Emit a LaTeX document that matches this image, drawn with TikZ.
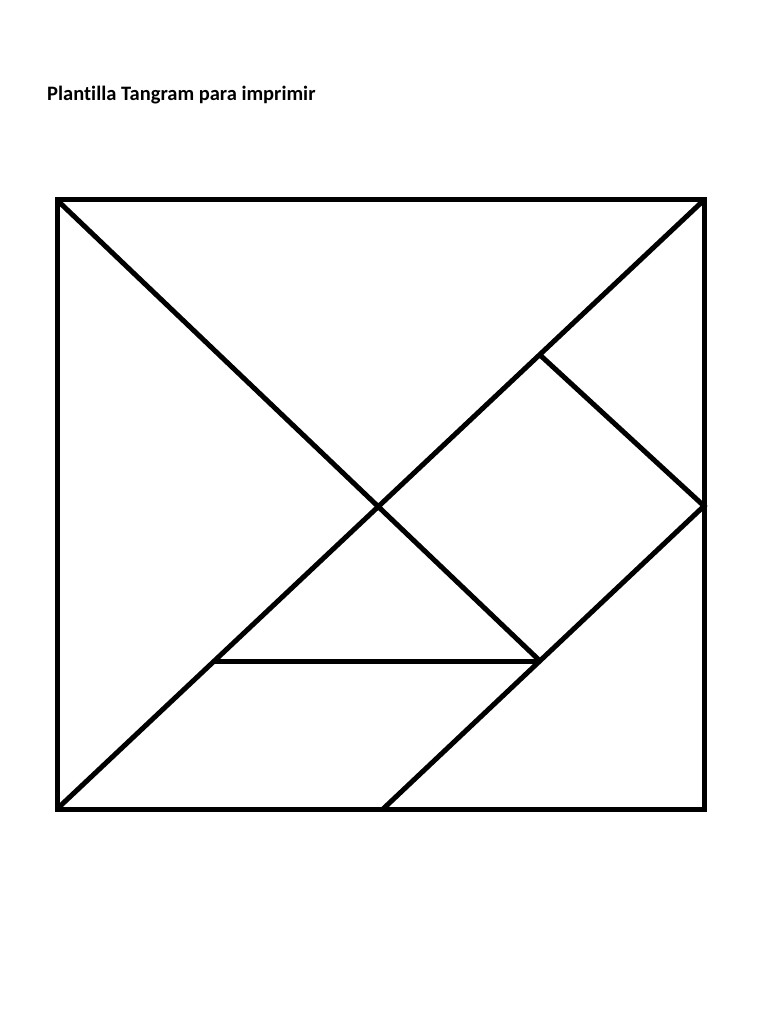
\documentclass[tikz,border=0pt]{standalone}
\usepackage{fontspec}
\setmainfont[Ligatures=NoCommon]{Carlito}
\begin{document}
\begin{tikzpicture}[x=1pt,y=-1pt,
  frame/.style={line width=5pt,line join=miter},
  piece/.style={line width=5pt,line join=miter,line cap=butt}]
\useasboundingbox (0,0) rectangle (768,1024);
\node[anchor=base west,inner sep=0pt,font=\fontsize{20.5}{24}\selectfont\bfseries] (title) at (47,101) {Plantilla Tangram para imprimir};
\coordinate (tl) at (57,200);
\coordinate (tr) at (704,200);
\coordinate (br) at (704,809);
\coordinate (bl) at (57,809);
\coordinate (c) at (378,507);
\coordinate (ml) at (214,661);
\coordinate (mr) at (540,661);
\coordinate (um) at (540,355);
\coordinate (rm) at (704,506);
\coordinate (bm) at (383,809);
\draw[frame] (tl) -- (tr) -- (br) -- (bl) -- cycle;
\draw[piece] (tl) -- (mr);
\draw[piece] (bl) -- (tr);
\draw[piece] (um) -- (rm) -- (bm);
\draw[piece] (ml) -- (mr);
\end{tikzpicture}
\end{document}
